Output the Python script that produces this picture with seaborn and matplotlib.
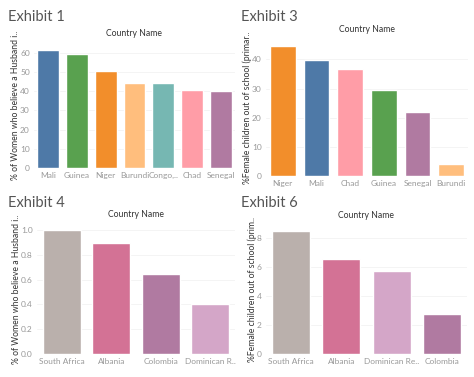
import numpy as np
import pandas as pd
import seaborn as sns
import matplotlib.pyplot as plt

# Exhibit 1 - % of women who believe a husband is justified...
paises_1 = ["Mali", "Guinea", "Niger", "Burundi", "Congo,..", "Chad", "Senegal"]
valores_1 = [61.3, 59.2, 50.5, 44.2, 44.0, 40.7, 40.0]

# Exhibit 3 - % female children out of school (primary)
paises_3 = ["Niger", "Mali", "Chad", "Guinea", "Senegal", "Burundi"]
valores_3 = [44.5, 39.7, 36.6, 29.4, 21.8, 4.2]

# Exhibit 4
paises_4 = ["South Africa", "Albania", "Colombia", "Dominican R.."]
valores_4 = [1.0, 0.90, 0.65, 0.40]

# Exhibit 6
paises_6 = ["South Africa", "Albania", "Dominican Re..", "Colombia"]
valores_6 = [8.48, 6.53, 5.75, 2.76]

colores = {
    "Mali": "#4E79A7", "Guinea": "#59A14F", "Niger": "#F28E2B",
    "Burundi": "#FFBE7D", "Congo,..": "#76B7B2", "Chad": "#FF9DA7",
    "Senegal": "#B07AA1", "South Africa": "#BAB0AC", "Albania": "#D37295",
    "Colombia": "#B07AA1", "Dominican R..": "#D4A6C8", "Dominican Re..": "#D4A6C8",
}

sns.set_style("white")
plt.rcParams['font.family'] = ['Lato', 'DejaVu Sans']

W, H = 474, 377
fig = plt.figure(figsize=(W / 100, H / 100), dpi=100)

paneles = [
    ("Exhibit 1", paises_1, valores_1, "% of Women who believe a Husband i..",
     (34, 43, 235, 168), (0, 65), [0, 10, 20, 30, 40, 50, 60], (8, 17)),
    ("Exhibit 3", paises_3, valores_3, "%Female children out of school (primar..",
     (266, 39, 468, 176), (0, 47), [0, 10, 20, 30, 40], (241, 17)),
    ("Exhibit 4", paises_4, valores_4, "% of Women who believe a Husband i..",
     (37, 224, 235, 354), (0, 1.05), [0, 0.2, 0.4, 0.6, 0.8, 1.0], (8, 203)),
    ("Exhibit 6", paises_6, valores_6, "%Female children out of school (prim..",
     (266, 225, 467, 354), (0, 8.9), [0, 2, 4, 6, 8], (241, 203)),
]

for titulo, paises, valores, ylab, caja, ylim, ticks, pos_tit in paneles:
    x0, y0, x1, y1 = caja
    ax = fig.add_axes([x0 / W, 1 - y1 / H, (x1 - x0) / W, (y1 - y0) / H])
    df = pd.DataFrame({"Country": paises, "Valor": valores})
    sns.barplot(data=df, x="Country", y="Valor", hue="Country", order=paises,
                palette={p: colores[p] for p in paises}, legend=False,
                width=0.76, saturation=1, ax=ax)
    ax.set_xlim(-0.5, len(paises) - 0.5)
    ax.set_ylim(*ylim)
    ax.set_yticks(ticks)
    if isinstance(ticks[1], float):
        ax.set_yticklabels([f"{t:.1f}" for t in ticks])
    else:
        ax.set_yticklabels([str(t) for t in ticks])
    ax.grid(axis="y", color="#f2f2f2", linewidth=0.6)
    ax.set_axisbelow(True)
    for s in ax.spines.values():
        s.set_visible(False)
    ax.tick_params(axis="both", length=0, labelsize=6, colors="#999999", pad=3)
    ax.set_xlabel("")
    ax.set_ylabel(ylab, fontsize=6.2, color="#333333", labelpad=0)
    ax.set_title("Country Name", fontsize=6.2, color="#333333", pad=5)
    fig.text(pos_tit[0] / W, 1 - pos_tit[1] / H, titulo, fontsize=10.5,
             color="#555555", va="center", ha="left")

fig.savefig("out.png", dpi=100, facecolor="white")
